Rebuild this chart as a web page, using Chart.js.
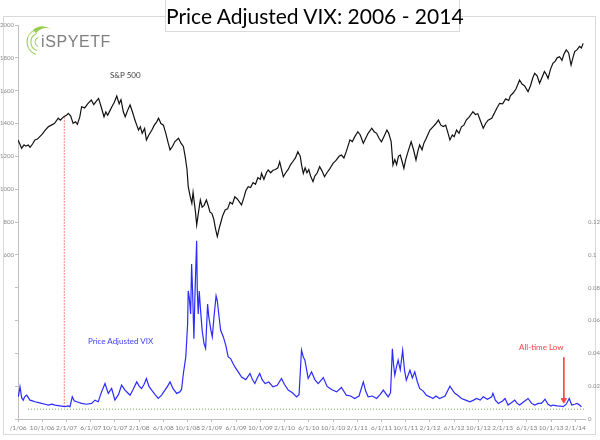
<!DOCTYPE html>
<html>
<head>
<meta charset="utf-8">
<script src="https://cdn.jsdelivr.net/npm/chart.js@4.4.1/dist/chart.umd.min.js"></script>
<style>
  html,body{margin:0;padding:0;background:#fff;}
  #wrap{position:relative;width:600px;height:440px;overflow:hidden;background:#fff;font-family:Lato,"Open Sans",sans-serif;}
  #frame{position:absolute;left:3px;top:16px;width:593px;height:419px;border:1px solid #d9d9d9;box-sizing:border-box;}
  #c{position:absolute;left:0;top:0;}
  #title{position:absolute;left:165px;top:-1px;width:295px;height:33px;border:1px solid #d9d9d9;background:#fff;box-sizing:border-box;
         font-size:21px;line-height:31px;text-align:center;color:#000;white-space:nowrap;}
  .lbl{position:absolute;white-space:nowrap;font-size:8px;line-height:10px;}
  #logoTxt{position:absolute;left:41px;top:33px;font-size:16px;line-height:18px;color:#7f7f7f;letter-spacing:0.6px;font-family:"Liberation Sans",Arial,sans-serif;}
  #logo{position:absolute;left:22px;top:22px;}
</style>
</head>
<body>
<div id="wrap">
  <div id="frame"></div>
  <canvas id="c" width="600" height="440"></canvas>
  <svg id="logo" width="36" height="40" viewBox="0 0 36 40">
    <path d="M13.6 32.2 A13 13 0 0 1 13.6 7.8" fill="none" stroke="#9ccf5a" stroke-width="1.2"/>
    <path d="M14.9 28.5 A9 9 0 0 1 14.9 11.5" fill="none" stroke="#9ccf5a" stroke-width="1.1"/>
    <path d="M16.3 24.7 A5 5 0 0 1 16.3 15.3" fill="none" stroke="#9ccf5a" stroke-width="1"/>
    <path d="M11 8 Q19 1 29 7 Q21 4 14 11 Z" fill="#8dc63f" opacity="0.9"/>
  </svg>
  <div id="logoTxt">iSPYETF</div>
  <div id="title">Price Adjusted VIX: 2006 - 2014</div>
  <div class="lbl" style="left:110px;top:70px;color:#404040;">S&amp;P 500</div>
  <div class="lbl" style="left:88px;top:336px;color:#3c3cff;">Price Adjusted VIX</div>
  <div class="lbl" style="left:519px;top:342px;color:#ff4040;">All-time Low</div>
</div>
<script>
// ---- data (x = months since 6/1/06) ----
const xTickMonths = [0,4,8,12,16,20,24,28,32,36,40,44,48,52,56,60,64,68,72,76,80,84,88,92];
const xTickLabels = ["/1/06","10/1/06","2/1/07","6/1/07","10/1/07","2/1/08","6/1/08","10/1/08","2/1/09","6/1/09","10/1/09","2/1/10","6/1/10","10/1/10","2/1/11","6/1/11","10/1/11","2/1/12","6/1/12","10/1/12","2/1/13","6/1/13","10/1/13","2/1/14"];
const leftTickValues = [-400,-200,0,200,400,600,800,1000,1200,1400,1600,1800,2000];
const rightTickValues = [0,0.02,0.04,0.06,0.08,0.1,0.12];

const spxMonths = [0.0,0.3,0.6,1.0,1.3,1.7,2.0,2.4,2.8,3.2,3.6,4.0,4.5,5.0,5.5,6.0,6.65,7.0,7.5,8.0,8.3,8.7,9.1,9.5,9.8,10.2,10.5,11.0,11.5,12.1,12.5,12.9,13.3,13.7,14.2,14.5,14.8,15.2,15.5,15.9,16.3,16.7,17.0,17.4,17.7,18.1,18.5,18.9,19.3,19.6,19.9,20.2,20.5,20.9,21.2,21.6,22.1,22.5,22.9,23.2,23.6,24.0,24.4,24.8,25.1,25.5,25.9,26.5,26.9,27.3,27.6,27.9,28.1,28.4,28.7,28.9,29.1,29.3,29.5,29.8,30.1,30.4,30.7,31.1,31.4,31.7,32.0,32.3,32.6,32.9,33.2,33.5,33.8,34.2,34.6,35.0,35.4,35.8,36.2,36.6,36.9,37.3,37.6,38.0,38.4,38.8,39.2,39.6,40.0,40.2,40.6,41.0,41.3,41.7,42.1,42.5,42.9,43.2,43.5,43.8,44.2,44.6,45.0,45.4,45.8,46.2,46.6,46.8,47.1,47.4,47.7,48.0,48.3,48.7,49.0,49.4,49.8,50.2,50.6,51.0,51.4,52.0,52.5,53.0,53.4,53.8,54.2,54.8,55.2,55.6,56.1,56.5,57.0,57.4,57.8,58.4,58.8,59.2,59.6,60.0,60.4,60.9,61.2,61.6,61.9,62.2,62.5,62.8,63.1,63.4,63.7,64.0,64.4,64.9,65.3,65.7,66.0,66.3,66.7,67.0,67.4,68.0,68.5,69.0,69.4,69.8,70.2,70.6,71.0,71.3,71.7,72.0,72.4,72.8,73.2,73.6,74.0,74.5,75.1,75.5,75.9,76.3,76.8,77.2,77.6,78.2,78.6,79.0,79.5,80.0,80.5,81.0,81.3,81.7,82.2,82.8,83.2,83.6,84.2,84.6,85.0,85.3,85.7,86.1,86.5,86.9,87.2,87.5,87.9,88.3,88.7,89.0,89.4,89.8,90.1,90.5,90.9,91.3,91.6,91.9,92.3,92.7,93.0,93.3];
const spxValues = [1300,1275,1249,1270,1262,1269,1255,1275,1300,1305,1320,1335,1360,1380,1390,1400,1432,1420,1440,1450,1462,1445,1401,1410,1395,1440,1502,1495,1520,1543,1515,1535,1553,1505,1441,1470,1450,1480,1502,1530,1567,1520,1545,1470,1441,1480,1513,1470,1421,1390,1360,1380,1340,1370,1300,1330,1360,1390,1410,1432,1400,1390,1340,1280,1239,1260,1290,1310,1280,1260,1198,1120,1015,960,914,980,920,860,782,860,934,890,900,934,900,860,853,820,760,711,760,800,840,873,880,920,910,954,940,920,904,950,990,1015,1010,1040,1030,1070,1060,1096,1060,1100,1117,1100,1115,1120,1130,1167,1120,1076,1100,1120,1150,1170,1190,1228,1200,1150,1096,1130,1100,1120,1080,1046,1080,1100,1137,1110,1076,1100,1120,1157,1175,1200,1208,1190,1230,1300,1290,1320,1350,1330,1280,1310,1340,1371,1350,1340,1310,1289,1320,1360,1340,1290,1147,1180,1150,1200,1208,1170,1127,1180,1230,1289,1240,1178,1230,1269,1240,1280,1310,1360,1380,1400,1421,1390,1381,1390,1340,1300,1330,1320,1360,1340,1380,1390,1421,1440,1472,1455,1460,1420,1371,1400,1420,1432,1460,1490,1523,1520,1550,1540,1570,1584,1610,1665,1640,1630,1594,1630,1680,1706,1690,1645,1680,1716,1700,1675,1730,1767,1780,1800,1807,1785,1820,1848,1830,1756,1800,1838,1850,1870,1860,1888];

const vixMonths = [0.05,0.33,0.6,0.87,1.1,1.44,1.98,2.4,2.8,3.4,3.9,4.5,5.0,5.6,6.1,6.9,7.76,8.2,8.58,8.96,9.3,9.69,10.5,11.3,12.16,12.7,13.25,13.7,14.36,14.9,15.46,16.0,16.6,17.1,17.66,18.1,18.5,19.0,19.6,20.0,20.4,20.8,21.2,21.6,22.06,22.6,23.15,23.7,24.26,24.7,25.1,25.6,26.2,26.7,27.0,27.3,27.7,28.0,28.1,28.27,28.5,28.66,28.8,29.04,29.2,29.49,29.6,29.75,29.92,30.1,30.4,30.7,30.97,31.3,31.5,31.85,32.07,32.4,32.7,32.9,33.2,33.45,33.9,34.3,34.7,35.1,35.5,35.8,36.3,36.9,37.6,38.3,38.7,39.1,39.5,39.9,40.3,40.8,41.4,42.1,42.8,43.5,44.0,44.6,45.3,46.0,46.4,46.8,47.1,47.36,47.9,48.46,49.0,49.55,50.4,51.0,51.5,52.0,52.6,53.4,54.2,54.9,55.6,56.3,57.0,57.4,57.8,58.5,59.2,59.8,60.3,61.1,61.5,61.8,62.0,62.2,62.5,62.75,63.1,63.5,63.8,64.1,64.7,65.1,65.5,65.9,66.3,66.9,67.4,68.0,68.5,69.0,69.6,70.5,71.3,72.1,72.6,73.2,73.9,74.6,75.2,75.7,76.3,76.8,77.5,78.2,78.4,78.8,79.3,80.0,80.4,80.9,81.5,82.0,82.4,82.8,83.5,84.2,84.8,85.3,85.9,86.4,87.0,87.5,88.0,88.3,89.0,89.5,90.0,90.5,91.0,91.4,91.9,92.3,92.7,93.0,93.3];
const vixValues = [0.0135,0.0196,0.013,0.0115,0.0135,0.0145,0.0115,0.011,0.0105,0.010,0.0095,0.009,0.0085,0.009,0.0085,0.008,0.0075,0.008,0.0075,0.0135,0.011,0.0105,0.0095,0.009,0.0095,0.0115,0.0105,0.0156,0.0216,0.0156,0.0186,0.0115,0.0150,0.0206,0.0176,0.0160,0.0145,0.0180,0.0226,0.0200,0.0186,0.0210,0.0247,0.0200,0.0176,0.0150,0.0125,0.0145,0.0176,0.0200,0.0226,0.0185,0.0156,0.0165,0.0180,0.0277,0.0378,0.058,0.078,0.074,0.064,0.0944,0.080,0.0489,0.074,0.1085,0.078,0.064,0.078,0.068,0.054,0.046,0.043,0.070,0.062,0.054,0.050,0.064,0.075,0.072,0.062,0.054,0.050,0.0448,0.0378,0.0368,0.0338,0.0317,0.0290,0.0256,0.0240,0.0277,0.0240,0.0216,0.0250,0.0277,0.0240,0.0216,0.0225,0.0196,0.0205,0.0247,0.0210,0.0176,0.0160,0.0135,0.0150,0.042,0.0378,0.0358,0.0247,0.0287,0.0240,0.0216,0.0252,0.0200,0.0186,0.0175,0.0165,0.0192,0.0145,0.0140,0.0125,0.0140,0.0226,0.0170,0.0135,0.0140,0.0125,0.0150,0.0176,0.0135,0.0160,0.0428,0.0330,0.0267,0.0320,0.0358,0.0300,0.0418,0.0300,0.0236,0.0297,0.0250,0.0287,0.0230,0.0186,0.0170,0.0145,0.0135,0.0125,0.0140,0.0125,0.0140,0.0200,0.0156,0.0145,0.0125,0.0115,0.0105,0.0115,0.0125,0.0115,0.0135,0.0120,0.0135,0.0156,0.0115,0.0095,0.0110,0.0125,0.0085,0.0100,0.0115,0.0095,0.0085,0.0105,0.0125,0.0095,0.0085,0.0095,0.0095,0.0120,0.0090,0.0079,0.0085,0.0080,0.0079,0.0075,0.0090,0.0125,0.0085,0.0090,0.0095,0.0085,0.0075];

const floorLevel = 0.006;            // green dotted all-time-low guide (right axis)
const floorMonths = [1.65, 93.6];
const markerMonth = 7.64;            // red vertical marker, Jan 2007
const markerRange = [1440, -327];    // left-axis values, S&P line down to VIX line
const arrowMonth = 90.1;
const arrowRange = [0.0376, 0.0115]; // right-axis values

const pts = (xs, ys) => xs.map((x, i) => ({x, y: ys[i]}));
const tickFont = {family: 'Lato, "Open Sans", sans-serif', size: 6};

new Chart(document.getElementById('c'), {
  type: 'line',
  data: {
    datasets: [
      {label: 'S&P 500', data: pts(spxMonths, spxValues), yAxisID: 'yL',
       borderColor: '#111', borderWidth: 1.2, pointRadius: 0, tension: 0},
      {label: 'Price Adjusted VIX', data: pts(vixMonths, vixValues), yAxisID: 'yR',
       borderColor: '#2b2bff', borderWidth: 1.2, pointRadius: 0, tension: 0},
      {label: 'floor', data: pts(floorMonths, [floorLevel, floorLevel]), yAxisID: 'yR',
       borderColor: '#70b050', borderWidth: 1, borderDash: [1, 2], pointRadius: 0},
      {label: 'marker', data: pts([markerMonth, markerMonth], markerRange), yAxisID: 'yL',
       borderColor: '#ff8080', borderWidth: 1, borderDash: [2, 1], pointRadius: 0},
      {label: 'arrow', data: pts([arrowMonth, arrowMonth], arrowRange), yAxisID: 'yR',
       borderColor: '#ff4040', backgroundColor: '#ff4040', borderWidth: 1,
       pointStyle: 'triangle', rotation: 180,
       pointRadius: c => c.dataIndex === 1 ? 3 : 0}
    ]
  },
  options: {
    responsive: false, animation: false, devicePixelRatio: 1,
    layout: {padding: {top: 25, left: 0, right: 0, bottom: 0}},
    plugins: {legend: {display: false}, tooltip: {enabled: false}},
    scales: {
      x: {type: 'linear', min: 0, max: 93.6,
          afterFit: s => { s.height = 21; },
          afterBuildTicks: s => { s.ticks = xTickMonths.map(v => ({value: v})); },
          ticks: {font: {...tickFont, size: 6.5}, color: '#7f7f7f', padding: 2, maxRotation: 0, autoSkip: false,
                  callback: v => { const i = xTickMonths.indexOf(v); return i >= 0 ? xTickLabels[i] : ''; }},
          grid: {drawOnChartArea: false, drawTicks: true, tickLength: 3, color: '#bfbfbf'},
          border: {display: true, color: '#bfbfbf'}},
      yL: {type: 'linear', position: 'left', min: -400, max: 2000,
           afterFit: s => { s.width = 18; },
           afterBuildTicks: s => { s.ticks = leftTickValues.map(v => ({value: v})); },
           ticks: {font: tickFont, color: '#8a8a8a', padding: 1,
                   callback: v => v >= 600 ? String(v) : ''},
           grid: {drawOnChartArea: false, drawTicks: true, tickLength: 3, color: '#bfbfbf'},
           border: {display: true, color: '#bfbfbf'}},
      yR: {type: 'linear', position: 'right', min: 0, max: 0.24,
           afterFit: s => { s.width = 15; },
           afterBuildTicks: s => { s.ticks = rightTickValues.map(v => ({value: v})); },
           ticks: {font: tickFont, color: '#8a8a8a', padding: 3,
                   callback: v => String(parseFloat(v.toFixed(2)))},
           grid: {display: false, drawTicks: false},
           border: {display: false}}
    }
  }
});
</script>
</body>
</html>
